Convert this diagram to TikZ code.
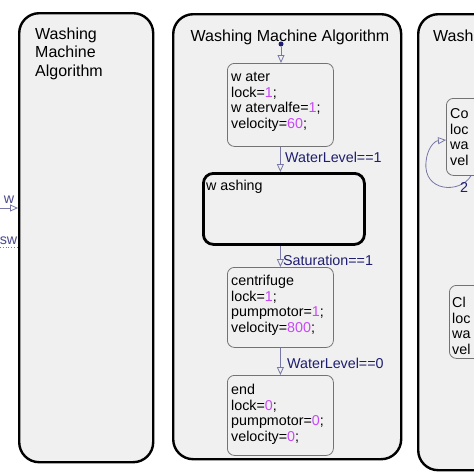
\documentclass[tikz,border=0pt]{standalone}
\usepackage{fontspec}
\setmainfont{Liberation Sans}
\usetikzlibrary{arrows.meta}
\definecolor{panelfill}{HTML}{F0F0F0}
\definecolor{navy}{HTML}{1E1E70}
\definecolor{conn}{HTML}{7878A8}
\definecolor{num}{HTML}{C848F8}
\newcommand{\nm}[1]{\textcolor{num}{#1}}
\begin{document}
\begin{tikzpicture}[x=1pt,y=-1pt,
  panel/.style={draw=black, line width=2.4pt, fill=panelfill, rounded corners=20pt, anchor=north west, inner sep=0pt},
  statebox/.style={draw=black!55, line width=0.8pt, fill=panelfill, rounded corners=7pt, anchor=north west, inner sep=0pt},
  superstate/.style={draw=black, line width=2.8pt, fill=panelfill, rounded corners=10pt, anchor=north west, inner sep=0pt},
  titletext/.style={font=\fontsize{16}{18.5}\selectfont, inner sep=0pt, align=left},
  boxtext/.style={font=\fontsize{14.3}{15.8}\selectfont, inner sep=0pt, align=left, anchor=north west},
  lbl/.style={font=\fontsize{14.3}{15.8}\selectfont, text=navy, inner sep=0pt, anchor=base west},
  trans/.style={draw=conn, line width=0.8pt, -{Triangle[open, length=8pt, width=7pt]}}
]
\useasboundingbox (0,0) rectangle (474,474);
\fill[white] (0,0) rectangle (474,474);
\clip (0,0) rectangle (474,474);

% ---------- left edge remnants ----------
\node[lbl, text=navy!80, anchor=base] (lw) at (9,203) {w};
\coordinate (lin) at (0,208);
\node[lbl, text=navy!80, anchor=base east] (lsw) at (17.5,244) {sw};
\coordinate (ldotA) at (0,247);
\coordinate (ldotB) at (17,247);

% ---------- panel 1 ----------
\node[panel, minimum width=134pt, minimum height=449pt] (p1) at (18,12) {};
\node[titletext, anchor=north west] (p1t) at (35,26) {\strut Washing\\Machine\\Algorithm};
\draw[trans] (lin) -- (lin -| p1.west);
\draw[conn, dotted, line width=0.8pt] (ldotA) -- (ldotB);

% ---------- panel 2 ----------
\node[panel, minimum width=228pt, minimum height=445pt] (p2) at (172,13) {};
\node[titletext, anchor=base] (p2t) at (290,41) {Washing Machine Algorithm};

\node[statebox, minimum width=106pt, minimum height=83pt] (water) at (227,63) {};
\node[boxtext] (watert) at (231,70) {\strut w ater\\lock=\nm{1};\\w atervalfe=\nm{1};\\velocity=\nm{60};};

\node[superstate, minimum width=161pt, minimum height=71pt] (wash) at (202,172) {};
\node[boxtext] (washt) at (206,179) {\strut w ashing};

\node[statebox, minimum width=106pt, minimum height=80pt] (centri) at (227,267) {};
\node[boxtext] (centrit) at (231,274) {\strut centrifuge\\lock=\nm{1};\\pumpmotor=\nm{1};\\velocity=\nm{800};};

\node[statebox, minimum width=106pt, minimum height=80pt] (endst) at (227,375) {};
\node[boxtext] (endt) at (231,383) {\strut end\\lock=\nm{0};\\pumpmotor=\nm{0};\\velocity=\nm{0};};

\node[circle, fill=navy, inner sep=0pt, minimum size=5pt] (init) at (281,44) {};
\draw[trans] (init) -- (init |- water.north);
\draw[trans] (water.south) -- (water.south |- wash.north);
\draw[trans] (water.south |- wash.south) -- (water.south |- centri.north);
\draw[trans] (centri.south) -- (endst.north);

\node[lbl] (l1) at (285,162) {WaterLevel==1};
\node[lbl] (l2) at (283,265) {Saturation==1};
\node[lbl] (l3) at (287,368) {WaterLevel==0};

% ---------- panel 3 ----------
\node[panel, minimum width=120pt, minimum height=456pt] (p3) at (417,13) {};
\node[titletext, anchor=base west] (p3t) at (433,41) {Wash};

\node[statebox, minimum width=60pt, minimum height=77pt] (b3a) at (446,98) {};
\node[boxtext] (b3at) at (450,107) {\strut Co\\loc\\wa\\vel};
\draw[trans] ([xshift=25pt]b3a.south west) .. controls (460,194) and (423,192) .. (426,162)
  .. controls (427,149) and (434,141) .. ([yshift=-42pt]b3a.north west);
\node[lbl, anchor=base] (n2) at (464,192) {2};

\node[statebox, minimum width=60pt, minimum height=73pt] (b3b) at (449,285) {};
\node[boxtext] (b3bt) at (452,296) {\strut Cl\\loc\\wa\\vel};
\end{tikzpicture}
\end{document}
